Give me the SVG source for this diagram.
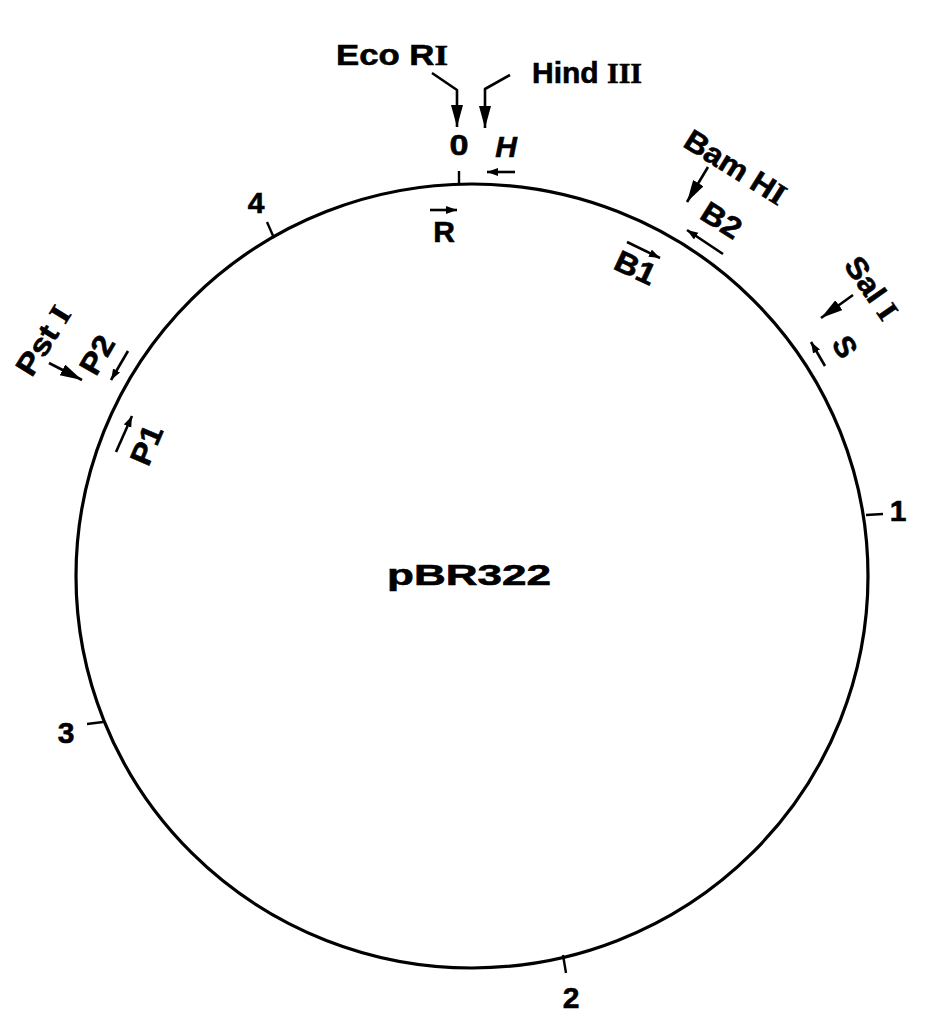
<svg xmlns="http://www.w3.org/2000/svg" width="939" height="1026" viewBox="0 0 939 1026">
<style>
.t{font-family:"Liberation Sans",Arial,sans-serif;font-weight:bold;font-size:30px;fill:#000;stroke:#000;stroke-width:0.6}
.rn{font-family:"Liberation Serif","Times New Roman",serif;font-weight:bold}
.ln{fill:none;stroke:#000;stroke-width:2.6;stroke-linecap:butt;stroke-linejoin:round}
.sm{fill:none;stroke:#000;stroke-width:2.6}
.tick{stroke:#000;stroke-width:2.4;fill:none}
</style>
<defs>
<marker id="big" markerUnits="userSpaceOnUse" markerWidth="24" markerHeight="14" refX="22" refY="6" orient="auto">
<path d="M0,0 L22,6 L0,12 z" fill="#000"/>
</marker>
<marker id="small" markerUnits="userSpaceOnUse" markerWidth="13" markerHeight="9" refX="11" refY="4" orient="auto">
<path d="M0,0 L11,4 L0,8 z" fill="#000"/>
</marker>
</defs>
<rect width="939" height="1026" fill="#fff"/>

<g id="plasmid">
<ellipse cx="472" cy="576" rx="396" ry="392" fill="none" stroke="#000" stroke-width="3.2"/>
<text class="t" x="387" y="585" font-size="30" textLength="164" lengthAdjust="spacingAndGlyphs">pBR322</text>
</g>

<g id="scale">
<line class="tick" x1="459" y1="184" x2="459" y2="171"/>
<text class="t" x="459" y="155" text-anchor="middle" textLength="19" lengthAdjust="spacingAndGlyphs">0</text>
<line class="tick" x1="866" y1="515" x2="883" y2="514"/>
<text class="t" x="898" y="521" text-anchor="middle">1</text>
<line class="tick" x1="563" y1="955" x2="566" y2="973"/>
<text class="t" x="571" y="1008" text-anchor="middle">2</text>
<line class="tick" x1="103" y1="722" x2="87" y2="724"/>
<text class="t" x="66" y="743" text-anchor="middle">3</text>
<line class="tick" x1="274" y1="238" x2="267" y2="222"/>
<text class="t" x="256" y="213" text-anchor="middle" font-size="27">4</text>
</g>

<g id="ecori">
<text class="t" x="336" y="65" font-size="28" textLength="112" lengthAdjust="spacingAndGlyphs">Eco R<tspan class="rn">I</tspan></text>
</g>
<g id="hindiii">
<text class="t" x="532" y="83" textLength="110" lengthAdjust="spacingAndGlyphs">Hind <tspan class="rn">III</tspan></text>
</g>
<g id="bamhi">
<text class="t" x="730" y="176" text-anchor="middle" font-size="28" textLength="114" lengthAdjust="spacingAndGlyphs" transform="rotate(32 730 176)">Bam H<tspan class="rn">I</tspan></text>
</g>
<g id="sali">
<text class="t" x="863" y="294" text-anchor="middle" font-size="28" textLength="70" lengthAdjust="spacingAndGlyphs" transform="rotate(55 863 294)">Sal <tspan class="rn">I</tspan></text>
</g>
<g id="psti">
<text class="t" x="52" y="346" text-anchor="middle" font-size="28" textLength="76" lengthAdjust="spacingAndGlyphs" transform="rotate(-58 52 346)">Pst <tspan class="rn">I</tspan></text>
</g>

<g id="primers">
<text class="t" x="506" y="157" text-anchor="middle" font-style="italic">H</text>
<text class="t" x="444" y="242" text-anchor="middle" font-size="32">R</text>
<text class="t" x="716" y="229" text-anchor="middle" textLength="42" lengthAdjust="spacingAndGlyphs" transform="rotate(32 716 229)">B2</text>
<text class="t" x="631" y="277" text-anchor="middle" textLength="42" lengthAdjust="spacingAndGlyphs" transform="rotate(25 631 277)">B1</text>
<text class="t" x="836" y="352" text-anchor="middle" transform="rotate(60 836 352)">S</text>
<text class="t" x="106" y="360" text-anchor="middle" textLength="40" lengthAdjust="spacingAndGlyphs" transform="rotate(-60 106 360)">P2</text>
<text class="t" x="156" y="449" text-anchor="middle" textLength="40" lengthAdjust="spacingAndGlyphs" transform="rotate(-67 156 449)">P1</text>
</g>

<g id="connectors">
<polyline class="ln" points="432,73 457,90 457,127" marker-end="url(#big)"/>
<polyline class="ln" points="510,75 485,89 485,128" marker-end="url(#big)"/>
<line class="ln" x1="708" y1="167" x2="687" y2="202" marker-end="url(#big)"/>
<line class="ln" x1="853" y1="295" x2="821" y2="318" marker-end="url(#big)"/>
<line class="ln" x1="49" y1="363" x2="82" y2="380" marker-end="url(#big)"/>
<line class="sm" x1="515" y1="172" x2="487" y2="172" marker-end="url(#small)"/>
<line class="sm" x1="430" y1="210" x2="457" y2="210" marker-end="url(#small)"/>
<line class="sm" x1="723" y1="254" x2="687" y2="230" marker-end="url(#small)"/>
<line class="sm" x1="627" y1="242" x2="660" y2="258" marker-end="url(#small)"/>
<line class="sm" x1="825" y1="366" x2="811" y2="342" marker-end="url(#small)"/>
<line class="sm" x1="128" y1="351" x2="111" y2="380" marker-end="url(#small)"/>
<line class="sm" x1="116" y1="452" x2="132" y2="416" marker-end="url(#small)"/>
</g>
</svg>
